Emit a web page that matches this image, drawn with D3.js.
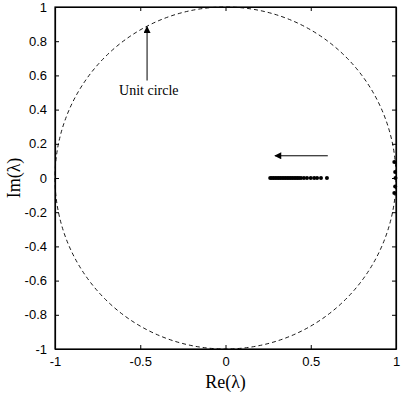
<!DOCTYPE html>
<html>
<head>
<meta charset="utf-8">
<script src="https://cdn.jsdelivr.net/npm/d3@7"></script>
<style>
  html, body { margin: 0; padding: 0; background: #fff; }
  svg { display: block; }
  .tick text { font-family: Arial, "Liberation Sans", sans-serif; font-size: 13px; fill: #000; }
</style>
</head>
<body>
<svg id="chart"></svg>
<script>
// eigenvalues on the real axis (moving left, see arrow)
const realEig = [0.262, 0.272, 0.282, 0.292, 0.302, 0.312, 0.322, 0.332, 0.342, 0.352,
                 0.362, 0.372, 0.382, 0.392, 0.402, 0.412, 0.422, 0.432, 0.443,
                 0.46, 0.478, 0.50, 0.52, 0.537, 0.56, 0.595];
// eigenvalues close to the unit circle
const edgeRe = [0.99, 0.995, 0.997, 0.995, 0.99];
const edgeIm = [0.094, 0.035, 0.0, -0.05, -0.088];

const xTicks = [-1, -0.5, 0, 0.5, 1];
const yTicks = [-1, -0.8, -0.6, -0.4, -0.2, 0, 0.2, 0.4, 0.6, 0.8, 1];

const W = 402, H = 397;
const m = { left: 55, right: 6, top: 7, bottom: 48 };

const svg = d3.select('#chart').attr('width', W).attr('height', H);

const x = d3.scaleLinear().domain([-1, 1]).range([m.left, W - m.right]);
const y = d3.scaleLinear().domain([-1, 1]).range([H - m.bottom, m.top]);

const fmt = d => d3.format('')(d).replace('−', '-');

// axes, ticks inward on all four sides
svg.append('g').attr('transform', `translate(0,${y(-1)})`)
    .call(d3.axisBottom(x).tickValues(xTicks).tickSizeInner(-4).tickSizeOuter(0).tickPadding(8).tickFormat(fmt));
svg.append('g').attr('transform', `translate(${x(-1)},0)`)
    .call(d3.axisLeft(y).tickValues(yTicks).tickSizeInner(-4).tickSizeOuter(0).tickPadding(8).tickFormat(fmt));
svg.append('g').attr('transform', `translate(0,${y(1)})`)
    .call(d3.axisTop(x).tickValues(xTicks).tickSizeInner(-4).tickSizeOuter(0).tickFormat(''));
svg.append('g').attr('transform', `translate(${x(1)},0)`)
    .call(d3.axisRight(y).tickValues(yTicks).tickSizeInner(-4).tickSizeOuter(0).tickFormat(''));

svg.selectAll('.domain').attr('stroke', '#000').attr('stroke-width', 1.2);
svg.selectAll('.tick line').attr('stroke', '#000');

// box
svg.append('rect')
    .attr('x', x(-1)).attr('y', y(1))
    .attr('width', x(1) - x(-1)).attr('height', y(-1) - y(1))
    .attr('fill', 'none').attr('stroke', '#000').attr('stroke-width', 1.2);

// unit circle
svg.append('ellipse')
    .attr('cx', x(0)).attr('cy', y(0))
    .attr('rx', x(1) - x(0)).attr('ry', y(0) - y(1))
    .attr('fill', 'none').attr('stroke', '#000').attr('stroke-width', 0.9)
    .attr('stroke-dasharray', '4,3');

// arrow marker
svg.append('defs').append('marker')
    .attr('id', 'head').attr('viewBox', '0 0 10 10')
    .attr('refX', 9).attr('refY', 5)
    .attr('markerWidth', 9).attr('markerHeight', 7)
    .attr('markerUnits', 'userSpaceOnUse')
    .attr('orient', 'auto')
    .append('path').attr('d', 'M0,0 L10,5 L0,10 z').attr('fill', '#000');

// arrow showing direction of motion
svg.append('line')
    .attr('x1', x(0.6)).attr('y1', y(0.13))
    .attr('x2', x(0.29)).attr('y2', y(0.13))
    .attr('stroke', '#000').attr('stroke-width', 1)
    .attr('marker-end', 'url(#head)');

// unit circle annotation
svg.append('line')
    .attr('x1', x(-0.46)).attr('y1', y(0.57))
    .attr('x2', x(-0.46)).attr('y2', y(0.885))
    .attr('stroke', '#000').attr('stroke-width', 1)
    .attr('marker-end', 'url(#head)');
svg.append('text')
    .attr('x', x(-0.45)).attr('y', y(0.485))
    .attr('text-anchor', 'middle')
    .attr('font-family', '"Times New Roman", "Liberation Serif", serif')
    .attr('font-size', 14)
    .text('Unit circle');

// eigenvalues
const pts = realEig.map(r => ({ re: r, im: 0 }))
    .concat(edgeRe.map((r, i) => ({ re: r, im: edgeIm[i] })));
svg.append('g').selectAll('circle')
    .data(pts)
    .enter()
    .append('circle')
    .attr('cx', d => x(d.re))
    .attr('cy', d => y(d.im))
    .attr('r', 2)
    .attr('fill', '#000');

// axis labels
svg.append('text')
    .attr('x', x(0)).attr('y', 388)
    .attr('text-anchor', 'middle')
    .attr('font-family', '"Times New Roman", "Liberation Serif", serif')
    .attr('font-size', 18)
    .text('Re(λ)');
svg.append('text')
    .attr('transform', `translate(20,${y(0)}) rotate(-90)`)
    .attr('text-anchor', 'middle')
    .attr('font-family', '"Times New Roman", "Liberation Serif", serif')
    .attr('font-size', 18)
    .text('Im(λ)');
</script>
</body>
</html>
